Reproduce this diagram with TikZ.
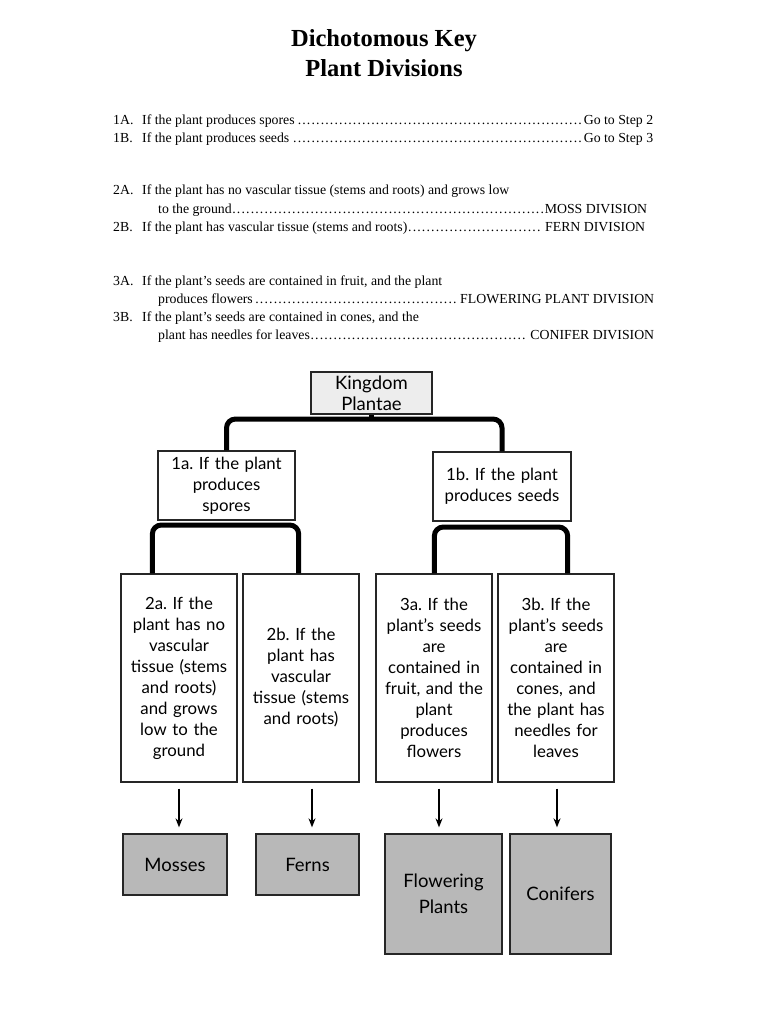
\documentclass[tikz,border=0pt]{standalone}
\usepackage{fontspec}
\setmainfont{Liberation Serif}
\newfontfamily\boxfont{Lato}
\usetikzlibrary{positioning}
\usetikzlibrary{arrows.meta}
\newcommand\keydots{\leaders\hbox to 4.6pt{\hss.\hss}\hfill}

\begin{document}
\frenchspacing
\begin{tikzpicture}[x=1pt, y=-1pt,
  keyline/.style={anchor=base west, inner sep=0pt, font=\fontsize{13.8}{16}\selectfont},
  stepbox/.style={draw=black!85, line width=1.3pt, fill=white, inner sep=0pt, align=center,
    font=\boxfont\fontsize{16.8}{21}\selectfont},
  endbox/.style={stepbox, fill=black!28, font=\boxfont\fontsize{18.5}{26}\selectfont},
  bracket/.style={line width=5pt, rounded corners=9pt},
  pointer/.style={-{Stealth[length=9pt, width=7pt]}, line width=1.4pt, shorten <=6pt, shorten >=6pt}]
  \useasboundingbox (0,0) rectangle (768,1024);

  % title
  \node[font=\bfseries\fontsize{24.5}{30}\selectfont, align=center] (title) at (384,53)
    {Dichotomous Key\\Plant Divisions};

  % the key
  \node[keyline] (k1A) at (113,125) {\makebox[540pt]{\makebox[29pt][l]{1A.}If the plant produces spores\keydots Go to Step 2}};
  \node[keyline] (k1B) at (113,143) {\makebox[540pt]{\makebox[29pt][l]{1B.}If the plant produces seeds\keydots Go to Step 3}};

  \node[keyline] (k2A) at (113,195) {\makebox[29pt][l]{2A.}If the plant has no vascular tissue (stems and roots) and grows low};
  \node[keyline] (k2Ab) at (158,214) {\makebox[489pt]{to the ground\keydots MOSS DIVISION}};
  \node[keyline] (k2B) at (113,232) {\makebox[532pt]{\makebox[29pt][l]{2B.}If the plant has vascular tissue (stems and roots)\keydots FERN DIVISION}};

  \node[keyline] (k3A) at (113,285) {\makebox[29pt][l]{3A.}If the plant's seeds are contained in fruit, and the plant};
  \node[keyline] (k3Ab) at (158,303) {\makebox[496pt]{produces flowers\keydots FLOWERING PLANT DIVISION}};
  \node[keyline] (k3B) at (113,321) {\makebox[29pt][l]{3B.}If the plant's seeds are contained in cones, and the};
  \node[keyline] (k3Bb) at (158,339) {\makebox[496pt]{plant has needles for leaves\keydots CONIFER DIVISION}};

  % the tree
  \node[stepbox, fill=black!7, minimum width=121pt, minimum height=42pt, text width=115pt,
    font=\boxfont\fontsize{18.5}{21}\selectfont] (kingdom) at (371.5,393) {Kingdom\\Plantae};

  \node[stepbox, minimum width=137pt, minimum height=69pt, text width=134pt] (n1a) at (226.5,485.5)
    {1a. If the plant\\produces\\spores};
  \node[stepbox, minimum width=138pt, minimum height=69pt, text width=134pt] (n1b) at (502,486.5)
    {1b. If the plant\\produces seeds};

  \node[stepbox, minimum width=116pt, minimum height=208pt, text width=114pt] (n2a) at (179,678)
    {2a. If the\\plant has no\\vascular\\tissue (stems\\and roots)\\and grows\\low to the\\ground};
  \node[stepbox, minimum width=116pt, minimum height=208pt, text width=114pt] (n2b) at (301,678)
    {2b. If the\\plant has\\vascular\\tissue (stems\\and roots)};
  \node[stepbox, minimum width=116pt, minimum height=208pt, text width=114pt] (n3a) at (434,678)
    {3a. If the\\plant’s seeds\\are\\contained in\\fruit, and the\\plant\\produces\\flowers};
  \node[stepbox, minimum width=116pt, minimum height=208pt, text width=114pt] (n3b) at (556,678)
    {3b. If the\\plant’s seeds\\are\\contained in\\cones, and\\the plant has\\needles for\\leaves};

  \node[endbox, minimum width=104pt, minimum height=61pt] (mosses) at (175,864.5) {Mosses};
  \node[endbox, minimum width=103pt, minimum height=61pt] (ferns) at (307.5,864.5) {Ferns};
  \node[endbox, minimum width=117pt, minimum height=120pt] (flowering) at (443.5,894) {Flowering\\Plants};
  \node[endbox, minimum width=101pt, minimum height=120pt] (conifers) at (560.5,894) {Conifers};

  \coordinate (bar0) at (371.5,419);
  \coordinate (bar1) at (226.5,525);
  \coordinate (bar2) at (502,527);

  \draw[bracket] (n1a.north) |- (bar0) -| (n1b.north);
  \draw[line width=5pt] (kingdom.south) -- (bar0);
  \draw[bracket] ([xshift=-5pt]n2a.north -| n1a.west) |- (bar1) -| ([xshift=3pt]n2b.north -| n1a.east);
  \draw[bracket] ([xshift=2pt]n3a.north -| n1b.west) |- (bar2) -| ([xshift=-4pt]n3b.north -| n1b.east);

  \draw[pointer] (n2a.south) -- (n2a.south |- mosses.north);
  \draw[pointer] ([xshift=11pt]n2b.south) -- ([xshift=11pt]n2b.south |- ferns.north);
  \draw[pointer] ([xshift=5pt]n3a.south) -- ([xshift=5pt]n3a.south |- flowering.north);
  \draw[pointer, line width=2.4pt] ([xshift=1pt]n3b.south) -- ([xshift=1pt]n3b.south |- conifers.north);
\end{tikzpicture}
\end{document}
